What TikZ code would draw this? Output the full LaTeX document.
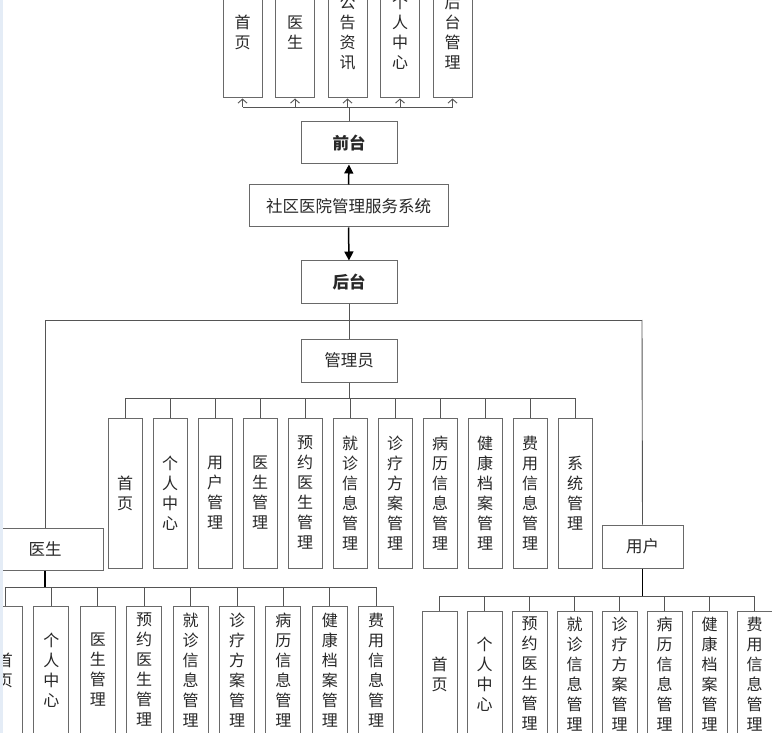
\documentclass[tikz,border=0pt]{standalone}
\usepackage{fontspec}
\setmainfont{Noto Sans CJK SC}
\usetikzlibrary{arrows.meta}
\definecolor{boxgray}{RGB}{105,105,105}
\definecolor{linegray}{RGB}{85,85,85}
\definecolor{txtgray}{RGB}{40,40,40}
\definecolor{stripblue}{RGB}{228,236,246}
\tikzset{
modbox/.style={draw=boxgray, line width=1pt, inner sep=0pt, align=center, text=txtgray, font=\fontsize{16}{20}\selectfont},
rolebox/.style={draw=boxgray, line width=1pt, inner sep=0pt, text=txtgray, minimum width=96pt, minimum height=42pt, font=\fontsize{16.5}{20}\selectfont},
link/.style={draw=linegray, line width=0.9pt},
mainlink/.style={draw=black, line width=1.5pt}
}

\begin{document}
\begin{tikzpicture}[x=1pt,y=-1pt]
\useasboundingbox (0,0) rectangle (772,733);
\clip (0,0) rectangle (772,733);
\fill[white] (0,0) rectangle (772,733);

% role boxes
\node[rolebox, font=\fontsize{16.5}{20}\selectfont\bfseries] (front) at (349,143) {前台};
\node[rolebox, minimum width=199pt] (sys) at (348.5,206) {社区医院管理服务系统};
\node[rolebox, font=\fontsize{16.5}{20}\selectfont\bfseries] (back) at (349,282) {后台};
\node[rolebox, minimum height=43pt] (admin) at (349,360.5) {管理员};
\node[rolebox, minimum width=116pt] (doc) at (45,549) {医生};
\node[rolebox, minimum width=81pt, minimum height=43pt] (user) at (642.5,546.5) {用户};

% front modules
\foreach \lbl [count=\i] in {首\\页,医\\生,公\\告\\资\\讯,个\\人\\中\\心,后\\台\\管\\理}
{
\node[modbox, minimum width=39pt, minimum height=131pt] (t\i) at (190+52.5*\i,32.5) {\lbl};
}
\coordinate (tbar) at (349,107);
\draw[link] (front.north) -- (tbar);
\draw[link] (t1.south |- tbar) -- (t5.south |- tbar);
\foreach \i in {1,...,5}
{
\draw[link,-{Straight Barb[length=4pt,width=9pt]}] (t\i.south |- tbar) -- (t\i.south);
}

% system to front and back
\draw[mainlink,-{Triangle[length=9pt,width=9pt]}] (sys.north) -- (front.south);
\draw[mainlink,-{Triangle[length=9pt,width=9pt]}] (sys.south) -- (back.north);

% back to roles
\coordinate (rl) at (45,320);
\coordinate (rr) at (642,320);
\draw[link] (back.south) -- (admin.north);
\draw[link] (rl) -- (rr);
\draw[link] (rl) -- (doc.north);
\draw[link] (rr) -- (user.north);

% admin modules
\foreach \lbl [count=\i from 0] in {首\\页,个\\人\\中\\心,用\\户\\管\\理,医\\生\\管\\理,预\\约\\医\\生\\管\\理,就\\诊\\信\\息\\管\\理,诊\\疗\\方\\案\\管\\理,病\\历\\信\\息\\管\\理,健\\康\\档\\案\\管\\理,费\\用\\信\\息\\管\\理,系\\统\\管\\理}
{
\node[modbox, minimum width=34pt, minimum height=150pt] (a\i) at (125+45*\i,493) {\lbl};
}
\coordinate (abar) at (349,398);
\draw[link] (admin.south) -- (abar);
\draw[link] (a0.north |- abar) -- (a10.north |- abar);
\foreach \i in {0,...,10}
{
\draw[link] (a\i.north |- abar) -- (a\i.north);
}

% doctor modules
\foreach \lbl [count=\i from 0] in {首\\页,个\\人\\中\\心,医\\生\\管\\理,预\\约\\医\\生\\管\\理,就\\诊\\信\\息\\管\\理,诊\\疗\\方\\案\\管\\理,病\\历\\信\\息\\管\\理,健\\康\\档\\案\\管\\理,费\\用\\信\\息\\管\\理}
{
\node[modbox, minimum width=35pt, minimum height=128pt] (d\i) at (5+46.4*\i,670) {\lbl};
}
\coordinate (dbar) at (45,587);
\draw[mainlink] (doc.south) -- (dbar);
\draw[link] (d0.north |- dbar) -- (d8.north |- dbar);
\foreach \i in {0,...,8}
{
\draw[link] (d\i.north |- dbar) -- (d\i.north);
}

% user modules
\foreach \lbl [count=\i from 0] in {首\\页,个\\人\\中\\心,预\\约\\医\\生\\管\\理,就\\诊\\信\\息\\管\\理,诊\\疗\\方\\案\\管\\理,病\\历\\信\\息\\管\\理,健\\康\\档\\案\\管\\理,费\\用\\信\\息\\管\\理}
{
\node[modbox, minimum width=35pt, minimum height=126pt] (u\i) at (439.5+45*\i,674) {\lbl};
}
\coordinate (ubar) at (642,596);
\draw[mainlink] (user.south) -- (user.south |- ubar);
\draw[link] (u0.north |- ubar) -- (u7.north |- ubar);
\foreach \i in {0,...,7}
{
\draw[link] (u\i.north |- ubar) -- (u\i.north);
}

% screen strip at the left edge
\fill[stripblue] (0,0) rectangle (3,733);
\end{tikzpicture}
\end{document}
